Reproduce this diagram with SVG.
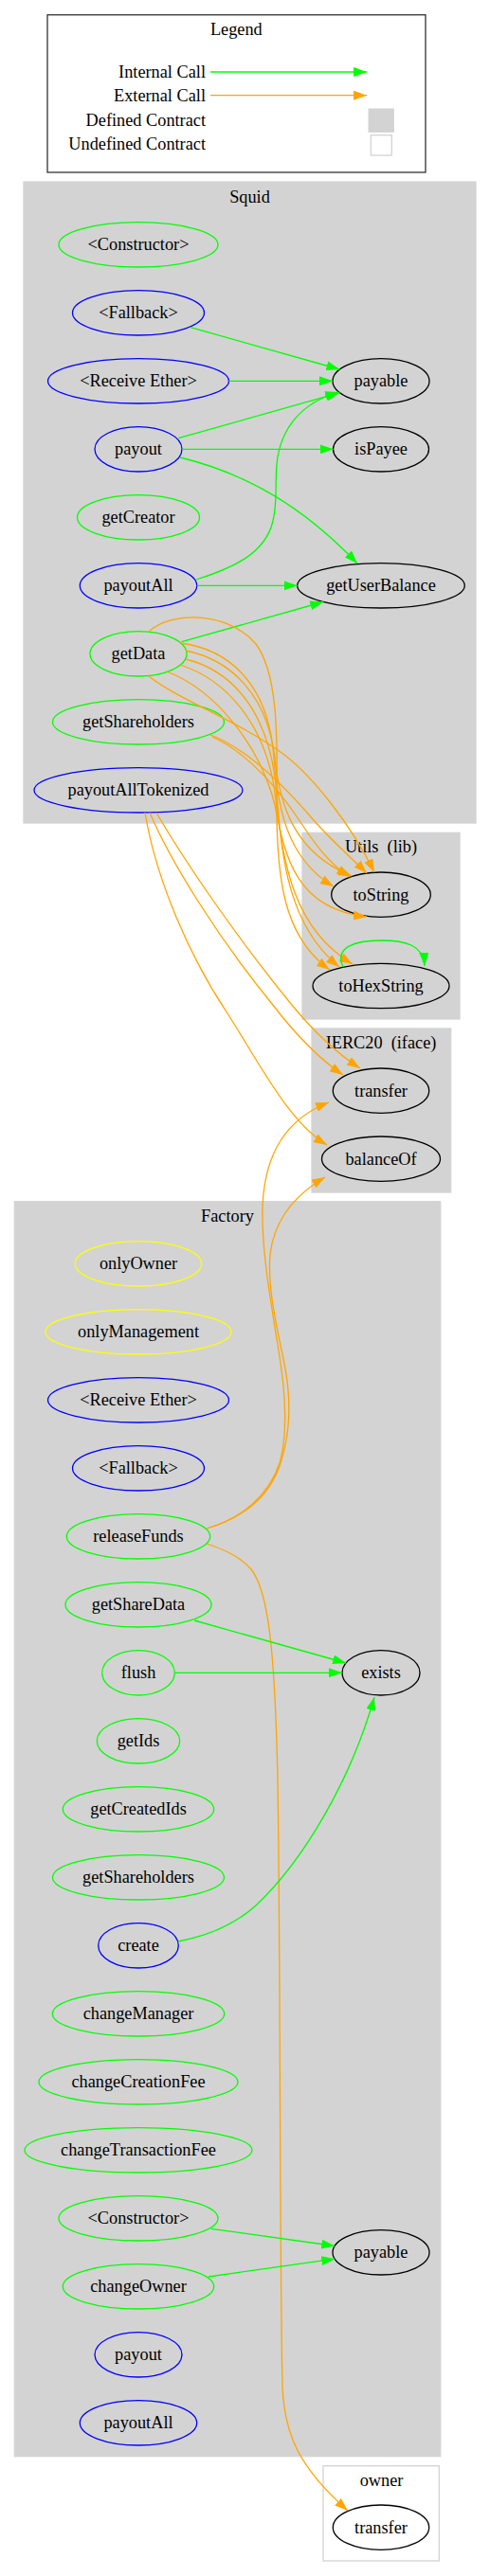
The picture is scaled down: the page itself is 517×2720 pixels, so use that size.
<svg xmlns="http://www.w3.org/2000/svg" width="517" height="2720" viewBox="0 0 517 2720">
<style>
text{font-family:"Liberation Serif","Times New Roman",serif;font-size:18.3px;fill:#000}
.c{text-anchor:middle}
.e{text-anchor:end}
.pre{white-space:pre}
.cl{fill:#d3d3d3;stroke:#d3d3d3;stroke-width:1.3}
.n{fill:none;stroke-width:1.3}
.g{stroke:#00ff00}.b{stroke:#0000ff}.y{stroke:#ffff00}.k{stroke:#000}
.ei{fill:none;stroke:#00ff00;stroke-width:1.3;marker-end:url(#ag)}
.ee{fill:none;stroke:#ffa500;stroke-width:1.3;marker-end:url(#ao)}
</style>
<defs>
<marker id="ag" viewBox="0 0 14 10" refX="14" refY="5" markerWidth="14" markerHeight="10" markerUnits="userSpaceOnUse" orient="auto"><path d="M0,0 L14,5 L0,10 z" fill="#00ff00"/></marker>
<marker id="ao" viewBox="0 0 14 10" refX="14" refY="5" markerWidth="14" markerHeight="10" markerUnits="userSpaceOnUse" orient="auto"><path d="M0,0 L14,5 L0,10 z" fill="#ffa500"/></marker>
</defs>
<rect x="0" y="0" width="517" height="2720" fill="#fff"/>

<g id="legend">
<rect x="50" y="15.7" width="399" height="166.3" fill="#fff" stroke="#333" stroke-width="1.3"/>
<text class="c" x="249.3" y="36.5">Legend</text>
<text class="e" x="217" y="82">Internal Call</text>
<text class="e" x="217" y="107">External Call</text>
<text class="e" x="217" y="132.5">Defined Contract</text>
<text class="e" x="217" y="158">Undefined Contract</text>
<line x1="222" y1="76" x2="387" y2="76" stroke="#00ff00" stroke-width="1.3" marker-end="url(#ag)"/>
<line x1="222" y1="100.7" x2="387" y2="100.7" stroke="#ffa500" stroke-width="1.3" marker-end="url(#ao)"/>
<rect x="389" y="115" width="26.3" height="24.3" fill="#d3d3d3" stroke="#d3d3d3"/>
<rect x="391.3" y="142.7" width="22" height="21.3" fill="#fff" stroke="#d3d3d3" stroke-width="1.3"/>
</g>

<g id="clusters">
<g id="cluster_Squid"><rect class="cl" x="25" y="192" width="477" height="677"/><text class="c" x="263.5" y="213.6">Squid</text></g>
<g id="cluster_Utils"><rect class="cl" x="319" y="879.3" width="166" height="196.7"/><text class="c pre" x="402" y="900">Utils  (lib)</text></g>
<g id="cluster_IERC20"><rect class="cl" x="329" y="1086" width="146.7" height="173"/><text class="c pre" x="402" y="1106.7">IERC20  (iface)</text></g>
<g id="cluster_Factory"><rect class="cl" x="15.3" y="1268.7" width="449.4" height="1325"/><text class="c" x="240" y="1290">Factory</text></g>
<g id="cluster_owner"><rect x="341" y="2603.7" width="122.3" height="100.3" fill="#fff" stroke="#d3d3d3" stroke-width="1.3"/><text class="c" x="402.5" y="2624.7">owner</text></g>
</g>

<g id="sq_ctor"><ellipse class="n g" cx="146" cy="258.3" rx="84" ry="23.7"/><text class="c" x="146" y="264.3">&lt;Constructor&gt;</text></g>
<g id="sq_fallback"><ellipse class="n b" cx="146" cy="330.3" rx="69.5" ry="23.7"/><text class="c" x="146" y="336.3">&lt;Fallback&gt;</text></g>
<g id="sq_receive"><ellipse class="n b" cx="146" cy="402.3" rx="95.5" ry="23.7"/><text class="c" x="146" y="408.3">&lt;Receive Ether&gt;</text></g>
<g id="sq_payout"><ellipse class="n b" cx="146" cy="474.3" rx="46" ry="23.7"/><text class="c" x="146" y="480.3">payout</text></g>
<g id="sq_getCreator"><ellipse class="n g" cx="146" cy="546.3" rx="64.5" ry="23.7"/><text class="c" x="146" y="552.3">getCreator</text></g>
<g id="sq_payoutAll"><ellipse class="n b" cx="146" cy="618.3" rx="61.7" ry="23.7"/><text class="c" x="146" y="624.3">payoutAll</text></g>
<g id="sq_getData"><ellipse class="n g" cx="146" cy="690.3" rx="51" ry="23.7"/><text class="c" x="146" y="696.3">getData</text></g>
<g id="sq_getShareholders"><ellipse class="n g" cx="146" cy="762.3" rx="90.5" ry="23.7"/><text class="c" x="146" y="768.3">getShareholders</text></g>
<g id="sq_payoutAllTokenized"><ellipse class="n b" cx="146" cy="834.3" rx="110" ry="23.7"/><text class="c" x="146" y="840.3">payoutAllTokenized</text></g>
<g id="sq_payable"><ellipse class="n k" cx="402" cy="402.3" rx="51" ry="23.7"/><text class="c" x="402" y="408.3">payable</text></g>
<g id="sq_isPayee"><ellipse class="n k" cx="402" cy="474.3" rx="50.5" ry="23.7"/><text class="c" x="402" y="480.3">isPayee</text></g>
<g id="sq_getUserBalance"><ellipse class="n k" cx="402" cy="618.3" rx="88.3" ry="23.7"/><text class="c" x="402" y="624.3">getUserBalance</text></g>

<g id="ut_toString"><ellipse class="n k" cx="402" cy="944.7" rx="52.3" ry="23.7"/><text class="c" x="402" y="950.7">toString</text></g>
<g id="ut_toHexString"><ellipse class="n k" cx="402" cy="1041" rx="72" ry="23.7"/><text class="c" x="402" y="1047">toHexString</text></g>
<g id="ie_transfer"><ellipse class="n k" cx="402" cy="1151.7" rx="50.7" ry="23.7"/><text class="c" x="402" y="1157.7">transfer</text></g>
<g id="ie_balanceOf"><ellipse class="n k" cx="402" cy="1223.7" rx="62.5" ry="23.7"/><text class="c" x="402" y="1229.7">balanceOf</text></g>

<g id="fa_onlyOwner"><ellipse class="n y" cx="146" cy="1334.3" rx="66.7" ry="23.7"/><text class="c" x="146" y="1340.3">onlyOwner</text></g>
<g id="fa_onlyManagement"><ellipse class="n y" cx="146" cy="1406.3" rx="98" ry="23.7"/><text class="c" x="146" y="1412.3">onlyManagement</text></g>
<g id="fa_receive"><ellipse class="n b" cx="146" cy="1478.3" rx="95.5" ry="23.7"/><text class="c" x="146" y="1484.3">&lt;Receive Ether&gt;</text></g>
<g id="fa_fallback"><ellipse class="n b" cx="146" cy="1550.3" rx="69.5" ry="23.7"/><text class="c" x="146" y="1556.3">&lt;Fallback&gt;</text></g>
<g id="fa_releaseFunds"><ellipse class="n g" cx="146" cy="1622.3" rx="75.7" ry="23.7"/><text class="c" x="146" y="1628.3">releaseFunds</text></g>
<g id="fa_getShareData"><ellipse class="n g" cx="146" cy="1694.3" rx="77" ry="23.7"/><text class="c" x="146" y="1700.3">getShareData</text></g>
<g id="fa_flush"><ellipse class="n g" cx="146" cy="1766.3" rx="38.3" ry="23.7"/><text class="c" x="146" y="1772.3">flush</text></g>
<g id="fa_getIds"><ellipse class="n g" cx="146" cy="1838.3" rx="43.7" ry="23.7"/><text class="c" x="146" y="1844.3">getIds</text></g>
<g id="fa_getCreatedIds"><ellipse class="n g" cx="146" cy="1910.3" rx="79.7" ry="23.7"/><text class="c" x="146" y="1916.3">getCreatedIds</text></g>
<g id="fa_getShareholders"><ellipse class="n g" cx="146" cy="1982.3" rx="90.5" ry="23.7"/><text class="c" x="146" y="1988.3">getShareholders</text></g>
<g id="fa_create"><ellipse class="n b" cx="146" cy="2054.3" rx="42.3" ry="23.7"/><text class="c" x="146" y="2060.3">create</text></g>
<g id="fa_changeManager"><ellipse class="n g" cx="146" cy="2126.3" rx="90.7" ry="23.7"/><text class="c" x="146" y="2132.3">changeManager</text></g>
<g id="fa_changeCreationFee"><ellipse class="n g" cx="146" cy="2198.3" rx="105" ry="23.7"/><text class="c" x="146" y="2204.3">changeCreationFee</text></g>
<g id="fa_changeTransactionFee"><ellipse class="n g" cx="146" cy="2270.3" rx="120" ry="23.7"/><text class="c" x="146" y="2276.3">changeTransactionFee</text></g>
<g id="fa_ctor"><ellipse class="n g" cx="146" cy="2342.3" rx="84" ry="23.7"/><text class="c" x="146" y="2348.3">&lt;Constructor&gt;</text></g>
<g id="fa_changeOwner"><ellipse class="n g" cx="146" cy="2414.3" rx="79.7" ry="23.7"/><text class="c" x="146" y="2420.3">changeOwner</text></g>
<g id="fa_payout"><ellipse class="n b" cx="146" cy="2486.3" rx="46" ry="23.7"/><text class="c" x="146" y="2492.3">payout</text></g>
<g id="fa_payoutAll"><ellipse class="n b" cx="146" cy="2558.3" rx="61.7" ry="23.7"/><text class="c" x="146" y="2564.3">payoutAll</text></g>
<g id="fa_exists"><ellipse class="n k" cx="402" cy="1766.3" rx="41" ry="23.7"/><text class="c" x="402" y="1772.3">exists</text></g>
<g id="fa_payable"><ellipse class="n k" cx="402" cy="2378.3" rx="51" ry="23.7"/><text class="c" x="402" y="2384.3">payable</text></g>

<g id="ow_transfer"><ellipse class="n k" cx="402" cy="2668.7" rx="50.7" ry="23.7"/><text class="c" x="402" y="2674.7">transfer</text></g>

<g id="connectors">
<path class="ei" d="M201,345.7 L358.4,390"/>
<path class="ei" d="M241.5,402.3 L351,402.3"/>
<path class="ei" d="M188.3,462.7 L358.4,414.6"/>
<path class="ei" d="M192.3,474.3 L351.5,474.3"/>
<path class="ei" d="M190,483 C260,500 320,535 377,595"/>
<path class="ei" d="M207,612 C245,600 280,585 288,550 C293,530 290,510 292,490 C296,450 320,425 357,414"/>
<path class="ei" d="M207.7,618.3 L313.7,618.3"/>
<path class="ei" d="M191.7,677.7 L341.2,635.5"/>

<path class="ee" d="M157,667 C180,645 240,645 270,680 C292,710 293,770 292,840 C291,930 300,990 348,1024"/>
<path class="ee" d="M190,679 C240,685 280,720 288,790 C293,850 300,905 352,936"/>
<path class="ee" d="M196,687 C245,697 282,735 290,800 C295,850 310,900 371,925"/>
<path class="ee" d="M196,696 C245,708 280,750 290,820 C297,880 295,970 358,1021"/>
<path class="ee" d="M190,702 C240,718 278,765 289,830 C298,890 300,975 372,1018"/>
<path class="ee" d="M176,709 C230,730 275,790 290,850 C300,900 310,960 387,968"/>
<path class="ee" d="M157,714 C190,740 250,760 300,797 C330,820 370,870 395,921"/>
<path class="ee" d="M222,776 C260,790 300,830 330,865 C350,888 370,905 387,922"/>
<path class="ee" d="M224,778 C262,795 295,835 315,865 C330,888 345,910 369,926"/>
<path class="ei" d="M362,1021 C352,1000 375,993 402,993 C428,993 447,998 448,1020"/>

<path class="ee" d="M153,858 C165,930 200,1010 240,1070 C275,1125 305,1185 345,1209"/>
<path class="ee" d="M158,858 C180,910 230,990 287,1060 C310,1090 335,1117 362,1135"/>
<path class="ee" d="M165,858 C195,910 250,990 307,1060 C330,1088 355,1112 380,1128"/>

<path class="ee" d="M218,1614 C255,1603 283,1580 295,1545 C305,1510 300,1460 293,1420 C285,1370 276,1320 277,1275 C279,1215 305,1180 347,1164"/>
<path class="ee" d="M218,1614 C255,1603 283,1582 295,1548 C308,1510 306,1470 300,1440 C292,1400 282,1360 285,1325 C288,1295 305,1265 343,1243"/>
<path class="ee" d="M218,1630 C240,1637 255,1645 265,1657 C283,1680 290,1740 293,1880 C296,2050 295,2400 298,2520 C300,2570 315,2605 367,2651"/>

<path class="ei" d="M205,1711 L365.1,1756"/>
<path class="ei" d="M184.3,1766.3 L361,1766.3"/>
<path class="ei" d="M188,2050 C225,2043 250,2030 270,2012 C320,1965 370,1880 395,1792"/>
<path class="ei" d="M222.7,2353.3 L353.1,2371.5"/>
<path class="ei" d="M220,2404 L353.2,2385.2"/>
</g>
</svg>
